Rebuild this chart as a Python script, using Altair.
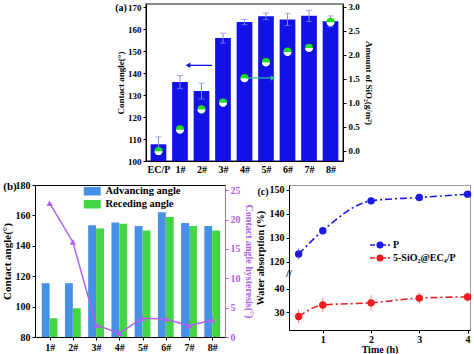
import json
import altair as alt
import pandas as pd

FONT = "Liberation Serif"

# ---------------- panel (a) data
cats_a = ["EC/P", "1#", "2#", "3#", "4#", "5#", "6#", "7#", "8#"]
contact_a = [107.6, 135.9, 131.8, 155.9, 163.2, 165.8, 164.4, 166.0, 163.5]
contact_err_a = [3.4, 3.0, 3.6, 2.3, 1.2, 1.5, 2.8, 2.5, 2.5]
sio2_a = [0.0, 0.45, 0.87, 1.01, 1.52, 1.85, 2.07, 2.15, 2.69]
arrow_blue_x = [1.37, 2.49]
arrow_blue_y = [143.5]
arrow_green_x = [4.07, 5.33]
arrow_green_y = [1.52]

# ---------------- panel (b) data
cats_b = ["1#", "2#", "3#", "4#", "5#", "6#", "7#", "8#"]
series_b = ["Advancing angle", "Receding angle"]
advancing_b = [115.4, 115.4, 153.6, 155.3, 153.0, 162.0, 155.0, 153.0]
receding_b = [92.3, 98.9, 151.4, 154.5, 150.0, 159.0, 153.0, 150.0]
hysteresis_b = [22.8, 16.2, 2.05, 0.65, 3.2, 3.07, 1.93, 2.9]

# ---------------- panel (c) data
time_c = [0.5, 1, 2, 3, 4]
series_c = ["P", "5-SiO₂@EC₄/P"]
p_c = [123.2, 132.9, 145.3, 146.7, 148.1]
p_err_c = [2.4, 1.0, 1.0, 0.8, 0.8]
s_c = [28.2, 33.1, 34.0, 36.0, 36.5]
s_err_c = [3.0, 3.0, 3.2, 2.3, 1.9]

BLUE_A = "#1212e6"
BLUE_B = "#4690e6"
GREEN_B = "#44d544"
PURPLE = "#b060f0"
BLUE_C = "#1a1ae6"
RED_C = "#ee1c1c"

def axis_style(size, tsize, **kw):
    return dict(labelFont=FONT, labelFontWeight="bold", labelFontSize=size,
                titleFont=FONT, titleFontWeight="bold", titleFontSize=tsize,
                labelColor="black", titleColor="black", domainColor="black",
                tickColor="black", grid=False, tickSize=3, **kw)

# ================= panel (a)
df_a = pd.DataFrame({"i": list(range(len(cats_a))), "angle": contact_a,
                     "err": contact_err_a, "sio2": sio2_a})
xa_scale = alt.Scale(domain=[-0.58, 8.58], nice=False, zero=False)
xa_axis = alt.Axis(values=list(range(len(cats_a))),
                   labelExpr=json.dumps(cats_a) + "[datum.value]",
                   title=None, ticks=False, labelPadding=3,
                   **axis_style(10, 9))
ya_scale = alt.Scale(domain=[100, 171.4], nice=False, zero=False)
ya_axis = alt.Axis(values=[100, 110, 120, 130, 140, 150, 160, 170],
                   title="Contact angle(°)", titlePadding=2,
                   **axis_style(9, 9))
yr_scale = alt.Scale(domain=[-0.21, 3.06], nice=False, zero=False)
yr_axis = alt.Axis(orient="right", values=[0, 0.5, 1.0, 1.5, 2.0, 2.5, 3.0],
                   format=".1f", title="Amount of SiO₂(g/m²)", titlePadding=4,
                   **axis_style(9, 9))

def XA(f):
    return alt.X(f, scale=xa_scale, axis=xa_axis, title=None)

def YA(f):
    return alt.Y(f, scale=ya_scale, axis=ya_axis, title="Contact angle(°)")

def YR(f):
    return alt.Y(f, scale=yr_scale, axis=yr_axis, title="Amount of SiO₂(g/m²)")

base_a = alt.Chart(df_a)
bars_a = base_a.transform_calculate(
    x0="datum.i - 0.365", x1="datum.i + 0.365"
).mark_bar(color=BLUE_A).encode(
    x=XA("x0:Q"), x2="x1:Q", y=YA("angle:Q"), y2=alt.datum(100))
err_base = base_a.transform_calculate(lo="datum.angle - datum.err",
                                      hi="datum.angle + datum.err")
err_a = err_base.mark_rule(color="#7f8fe0", strokeWidth=1).encode(
    x=XA("i:Q"), y=YA("lo:Q"), y2="hi:Q")
caps_hi = err_base.mark_tick(color="#7f8fe0", orient="horizontal", size=6, thickness=1).encode(
    x=XA("i:Q"), y=YA("hi:Q"))
caps_lo = err_base.mark_tick(color="#7f8fe0", orient="horizontal", size=6, thickness=1).encode(
    x=XA("i:Q"), y=YA("lo:Q"))
df_arrow_b = pd.DataFrame({"x": [arrow_blue_x[0]], "x2": [arrow_blue_x[1]], "y": arrow_blue_y})
arrow_b_line = alt.Chart(df_arrow_b).mark_rule(color=BLUE_A, strokeWidth=1.3).encode(
    x=XA("x:Q"), x2="x2:Q", y=YA("y:Q"))
arrow_b_head = alt.Chart(df_arrow_b).mark_point(shape="triangle-left", filled=True,
                                                 color=BLUE_A, size=30, opacity=1).encode(
    x=XA("x:Q"), y=YA("y:Q"))
left_a = alt.layer(bars_a, err_a, caps_hi, caps_lo, arrow_b_line, arrow_b_head)

pts_a = base_a.mark_point(shape="circle", filled=True, color="#22dd22", size=64, opacity=1).encode(
    x=XA("i:Q"), y=YR("sio2:Q"))
half_a = base_a.mark_point(shape="M-1,0.1 A1,1 0 0,0 1,0.1 Z", filled=True,
                           color="white", size=64, opacity=1).encode(
    x=XA("i:Q"), y=YR("sio2:Q"))
df_arrow_g = pd.DataFrame({"x": [arrow_green_x[0]], "x2": [arrow_green_x[1]], "y": arrow_green_y})
arrow_g_line = alt.Chart(df_arrow_g).mark_rule(color="#30b89a", strokeWidth=1.3).encode(
    x=XA("x:Q"), x2="x2:Q", y=YR("y:Q"))
arrow_g_head = alt.Chart(df_arrow_g).mark_point(shape="triangle-right", filled=True,
                                                 color="#30b89a", size=30, opacity=1).encode(
    x=XA("x2:Q"), y=YR("y:Q"))
right_a = alt.layer(pts_a, half_a, arrow_g_line, arrow_g_head)
label_a = alt.Chart(df_a.head(1)).mark_text(text="(a)", font=FONT, fontWeight="bold",
                                             fontSize=10, align="center").encode(
    x=alt.value(-25), y=alt.value(4))

panel_a = alt.layer(left_a, right_a, label_a).resolve_scale(y="independent").properties(
    width=197, height=157, view=alt.ViewBackground(stroke="#888888", strokeWidth=2))

spacer = alt.Chart(df_a.head(1)).mark_point(opacity=0).encode(
    x=alt.value(0), y=alt.value(0)).properties(
    width=78, height=150, view=alt.ViewBackground(stroke="transparent"))

# ================= panel (b)
rows_b = []
for i, c in enumerate(cats_b):
    rows_b.append({"i": i + 1, "series": series_b[0], "value": advancing_b[i]})
    rows_b.append({"i": i + 1, "series": series_b[1], "value": receding_b[i]})
df_b = pd.DataFrame(rows_b)
df_h = pd.DataFrame({"i": list(range(1, len(cats_b) + 1)), "hyst": hysteresis_b})

xb_scale = alt.Scale(domain=[0.37, 8.55], nice=False, zero=False)
xb_axis = alt.Axis(values=list(range(1, len(cats_b) + 1)),
                   labelExpr=json.dumps([""] + cats_b) + "[datum.value]",
                   title=None, labelPadding=2, **axis_style(10, 10))
yb_scale = alt.Scale(domain=[80, 180], nice=False, zero=False)
yb_axis = alt.Axis(values=[80, 100, 120, 140, 160, 180], title="Contact angle(°)",
                   titlePadding=3, **axis_style(10, 11))
yh_scale = alt.Scale(domain=[0, 25.9], nice=False, zero=False)
yh_style = axis_style(10, 10)
yh_style.update(labelColor=PURPLE, titleColor=PURPLE, domainColor=PURPLE, tickColor=PURPLE)
yh_axis = alt.Axis(orient="right", values=[0, 5, 10, 15, 20, 25],
                   title="Contact angle hysteresis(°)", titlePadding=3, **yh_style)

def XB(f):
    return alt.X(f, scale=xb_scale, axis=xb_axis, title=None)

def YH(f):
    return alt.Y(f, scale=yh_scale, axis=yh_axis, title="Contact angle hysteresis(°)")

bars_b = alt.Chart(df_b).transform_calculate(
    x0="datum.series == '" + series_b[0] + "' ? datum.i - 0.34 : datum.i",
    x1="datum.series == '" + series_b[0] + "' ? datum.i : datum.i + 0.34",
).mark_bar().encode(
    x=XB("x0:Q"), x2="x1:Q",
    y=alt.Y("value:Q", scale=yb_scale, axis=yb_axis, title="Contact angle(°)"),
    y2=alt.datum(80),
    color=alt.Color("series:N", scale=alt.Scale(domain=series_b, range=[BLUE_B, GREEN_B]),
                    legend=alt.Legend(orient="none", legendX=52, legendY=1, title=None,
                                      symbolType="M-2,-1H2V1H-2Z", symbolSize=72,
                                      symbolStrokeWidth=0, labelFont=FONT,
                                      labelFontWeight="bold", labelFontSize=10.5,
                                      labelColor="black", rowPadding=2, labelOffset=8,
                                      symbolOpacity=1)))
line_h = alt.Chart(df_h).mark_line(color=PURPLE, strokeWidth=1.5).encode(
    x=XB("i:Q"), y=YH("hyst:Q"))
pts_h = alt.Chart(df_h).mark_point(shape="triangle-up", filled=True, color=PURPLE,
                                   size=40, opacity=1).encode(
    x=XB("i:Q"), y=YH("hyst:Q"))
label_b = alt.Chart(df_h.head(1)).mark_text(text="(b)", font=FONT, fontWeight="bold",
                                             fontSize=11, align="center").encode(
    x=alt.value(-25), y=alt.value(2))
panel_b = alt.layer(bars_b, alt.layer(line_h, pts_h), label_b).resolve_scale(
    y="independent").properties(width=190, height=152,
                                view=alt.ViewBackground(stroke="black", strokeWidth=1))

# ================= panel (c)
rows_c = []
for j, t in enumerate(time_c):
    rows_c.append({"t": t, "series": series_c[0], "value": p_c[j], "err": p_err_c[j]})
    rows_c.append({"t": t, "series": series_c[1], "value": s_c[j], "err": s_err_c[j]})
df_c = pd.DataFrame(rows_c)
xc_scale = alt.Scale(domain=[0.3, 4.05], nice=False, zero=False)
xc_axis = alt.Axis(values=[1, 2, 3, 4], title="Time (h)", titlePadding=0,
                   labelPadding=1, **axis_style(10, 10))
yc_scale = alt.Scale(domain=[22.5, 46, 115.3, 151.9], range=[145, 89.5, 88, 0],
                     nice=False, zero=False)
yc_axis = alt.Axis(values=[30, 40, 120, 130, 140, 150], title="Water absorption (%)",
                   titlePadding=4, **axis_style(10, 10))

def XC(f):
    return alt.X(f, scale=xc_scale, axis=xc_axis, title="Time (h)")

def YC(f):
    return alt.Y(f, scale=yc_scale, axis=yc_axis, title="Water absorption (%)")

color_c = alt.Color("series:N", scale=alt.Scale(domain=series_c, range=[BLUE_C, RED_C]),
                    legend=None)
base_c = alt.Chart(df_c)
err_c = base_c.transform_calculate(lo="datum.value - datum.err",
                                   hi="datum.value + datum.err").mark_rule(
    strokeWidth=1, opacity=0.55).encode(
    x=XC("t:Q"), y=YC("lo:Q"), y2="hi:Q", color=color_c)
line_c = base_c.mark_line(strokeDash=[7, 3, 2, 3], strokeWidth=1.6,
                          interpolate="monotone").encode(
    x=XC("t:Q"), y=YC("value:Q"), color=color_c)
pts_c = base_c.mark_point(filled=True, size=55, opacity=1).encode(
    x=XC("t:Q"), y=YC("value:Q"), color=color_c)

df_leg = pd.DataFrame({"series": series_c})
leg_y = [60, 73]
leg_layers = []
for k, s in enumerate(series_c):
    col = [BLUE_C, RED_C][k]
    sub = alt.Chart(df_leg).transform_filter(alt.datum.series == s)
    leg_layers.append(sub.mark_rule(color=col, strokeWidth=1.6, strokeDash=[5, 2, 2, 2]).encode(
        x=alt.value(81), x2=alt.value(101), y=alt.value(leg_y[k])))
    leg_layers.append(sub.mark_point(filled=True, color=col, size=50, opacity=1).encode(
        x=alt.value(91), y=alt.value(leg_y[k])))
    leg_layers.append(sub.mark_text(align="left", font=FONT, fontWeight="bold",
                                    fontSize=10, color="black").encode(
        text="series:N", x=alt.value(104), y=alt.value(leg_y[k])))
brk = alt.Chart(df_leg.head(1)).mark_text(text="//", font=FONT, fontWeight="bold",
                                           fontSize=10, color="black").encode(
    x=alt.value(0), y=alt.value(88.7))
label_c = alt.Chart(df_leg.head(1)).mark_text(text="(c)", font=FONT, fontWeight="bold",
                                               fontSize=10, align="center").encode(
    x=alt.value(-26), y=alt.value(7))
panel_c = alt.layer(err_c, line_c, pts_c, brk, label_c, *leg_layers).properties(
    width=181, height=145, view=alt.ViewBackground(stroke="#999999", strokeWidth=1))

top = alt.hconcat(spacer, panel_a, spacing=0)
bottom = alt.hconcat(panel_b, panel_c, spacing=64, bounds="flush").resolve_scale(
    color="independent")
chart = alt.vconcat(top, bottom, spacing=4).resolve_scale(color="independent").properties(
    padding={"left": 0, "top": 0, "right": 0, "bottom": 0}
).configure(font=FONT)

chart.save("out.html", embed_options={"renderer": "svg", "actions": False})
